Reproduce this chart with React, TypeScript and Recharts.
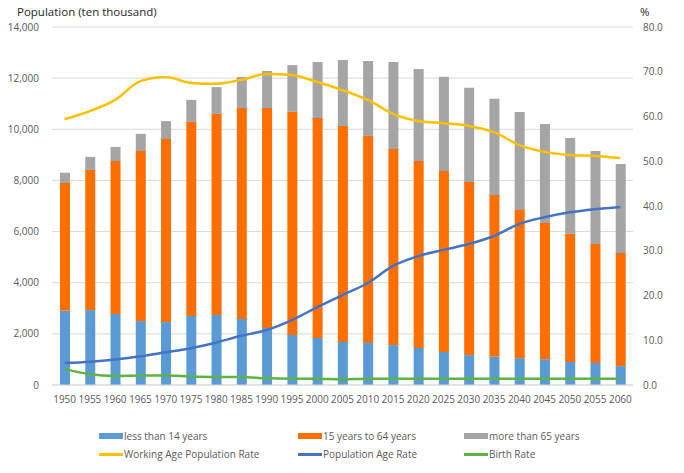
import React from 'react';
import { ComposedChart, Bar, Line, XAxis, YAxis, CartesianGrid, Legend } from 'recharts';

const years = ['1950', '1955', '1960', '1965', '1970', '1975', '1980', '1985', '1990', '1995', '2000', '2005', '2010', '2015', '2020', '2025', '2030', '2035', '2040', '2045', '2050', '2055', '2060'];

const under14 = [2900, 2930, 2780, 2500, 2460, 2700, 2740, 2580, 2230, 1960, 1840, 1680, 1640, 1560, 1450, 1290, 1170, 1100, 1050, 1010, 900, 860, 740];
const age15to64 = [5000, 5480, 5980, 6650, 7160, 7590, 7860, 8250, 8600, 8720, 8600, 8450, 8100, 7670, 7310, 7080, 6770, 6330, 5790, 5330, 5010, 4650, 4420];
const over65 = [400, 510, 550, 670, 700, 860, 1050, 1220, 1450, 1830, 2190, 2580, 2930, 3400, 3600, 3680, 3680, 3760, 3840, 3870, 3750, 3640, 3480];

const workingAgeRate = [59.4, 61.2, 63.7, 67.9, 68.8, 67.5, 67.3, 68.2, 69.5, 69.3, 67.7, 65.9, 63.7, 60.6, 59.0, 58.5, 57.9, 56.5, 53.6, 52.1, 51.4, 51.2, 50.7];
const populationAgeRate = [4.9, 5.2, 5.7, 6.4, 7.3, 8.2, 9.5, 11.0, 12.3, 14.5, 17.4, 20.1, 22.8, 26.6, 28.8, 30.2, 31.5, 33.3, 36.0, 37.5, 38.6, 39.3, 39.8];
const birthRate = [3.6, 2.4, 2.0, 2.1, 2.1, 1.9, 1.8, 1.8, 1.5, 1.4, 1.4, 1.3, 1.4, 1.4, 1.4, 1.4, 1.4, 1.4, 1.4, 1.4, 1.4, 1.4, 1.4];

const leftTicks = [0, 2000, 4000, 6000, 8000, 10000, 12000, 14000];
const rightTicks = [0, 10, 20, 30, 40, 50, 60, 70, 80];

const seriesNames = {
  under14: 'less than 14 years',
  age15to64: '15 years to 64 years',
  over65: 'more than 65 years',
  working: 'Working Age Population Rate',
  aging: 'Population Age Rate',
  birth: 'Birth Rate',
};

const COLORS = {
  under14: '#5B9BD5',
  age15to64: '#FF6F00',
  over65: '#A5A5A5',
  working: '#FFC000',
  aging: '#4472C4',
  birth: '#5DB344',
};

const data = years.map((y, i) => ({
  year: y,
  under14: under14[i],
  age15to64: age15to64[i],
  over65: over65[i],
  working: workingAgeRate[i],
  aging: populationAgeRate[i],
  birth: birthRate[i],
}));

const FONT = '"Open Sans", "Noto Sans", sans-serif';
const TEXT = '#595959';

const legendItems = [
  { key: 'under14', kind: 'bar', x: 99, row: 0 },
  { key: 'age15to64', kind: 'bar', x: 298, row: 0 },
  { key: 'over65', kind: 'bar', x: 464, row: 0 },
  { key: 'working', kind: 'line', x: 99, row: 1 },
  { key: 'aging', kind: 'line', x: 298, row: 1 },
  { key: 'birth', kind: 'line', x: 464, row: 1 },
];

const renderLegend = () => (
  <div style={{ position: 'relative', width: 684, height: 46, fontFamily: FONT, fontSize: 10, color: TEXT }}>
    {legendItems.map((it) => (
      <div
        key={it.key}
        style={{ position: 'absolute', left: it.x, top: it.row * 18, height: 18, display: 'flex', alignItems: 'center', whiteSpace: 'nowrap' }}
      >
        <span
          style={{
            display: 'inline-block',
            width: 24,
            height: it.kind === 'bar' ? 6 : 3,
            background: COLORS[it.key],
            marginRight: 1,
          }}
        />
        <span>{seriesNames[it.key]}</span>
      </div>
    ))}
  </div>
);

export default function App() {
  return (
    <div style={{ position: 'absolute', left: 0, top: 0, width: 684, height: 473, background: '#fff' }}>
      <div style={{ position: 'absolute', left: 17, top: 4, fontFamily: FONT, fontSize: 11.5, color: '#262626', whiteSpace: 'nowrap' }}>
        Population (ten thousand)
      </div>
      <div style={{ position: 'absolute', left: 640, top: 4, fontFamily: FONT, fontSize: 11.5, color: '#262626' }}>%</div>
      <ComposedChart
        width={684}
        height={473}
        data={data}
        margin={{ top: 27, right: 0, bottom: 0, left: 0 }}
        barCategoryGap={0}
      >
        <CartesianGrid yAxisId="left" vertical={false} stroke="#d9d9d9" />
        <XAxis
          dataKey="year"
          height={42}
          axisLine={{ stroke: '#d9d9d9' }}
          tickLine={false}
          tickSize={0}
          tickMargin={11}
          interval={0}
          tick={{ fill: TEXT, fontSize: 10, fontFamily: FONT }}
        />
        <YAxis
          yAxisId="left"
          orientation="left"
          width={52}
          domain={[0, 14000]}
          ticks={leftTicks}
          axisLine={false}
          tickLine={false}
          tickSize={0}
          tickMargin={13}
          tickFormatter={(v) => v.toLocaleString('en-US')}
          tick={{ fill: TEXT, fontSize: 10, fontFamily: FONT }}
        />
        <YAxis
          yAxisId="right"
          orientation="right"
          width={51}
          domain={[0, 80]}
          ticks={rightTicks}
          axisLine={false}
          tickLine={false}
          tickSize={0}
          tickMargin={10}
          tickFormatter={(v) => v.toFixed(1)}
          tick={{ fill: TEXT, fontSize: 10, fontFamily: FONT, textAnchor: 'start' }}
        />
        <Legend verticalAlign="bottom" content={renderLegend} wrapperStyle={{ left: 0, width: 684, height: 46 }} />
        <Bar yAxisId="left" dataKey="under14" name={seriesNames.under14} stackId="pop" fill={COLORS.under14} barSize={10} isAnimationActive={false} />
        <Bar yAxisId="left" dataKey="age15to64" name={seriesNames.age15to64} stackId="pop" fill={COLORS.age15to64} barSize={10} isAnimationActive={false} />
        <Bar yAxisId="left" dataKey="over65" name={seriesNames.over65} stackId="pop" fill={COLORS.over65} barSize={10} isAnimationActive={false} />
        <Line yAxisId="right" type="monotone" dataKey="working" name={seriesNames.working} stroke={COLORS.working} strokeWidth={2.5} dot={false} isAnimationActive={false} />
        <Line yAxisId="right" type="monotone" dataKey="aging" name={seriesNames.aging} stroke={COLORS.aging} strokeWidth={2.5} dot={false} isAnimationActive={false} />
        <Line yAxisId="right" type="monotone" dataKey="birth" name={seriesNames.birth} stroke={COLORS.birth} strokeWidth={2.5} dot={false} isAnimationActive={false} />
      </ComposedChart>
    </div>
  );
}
